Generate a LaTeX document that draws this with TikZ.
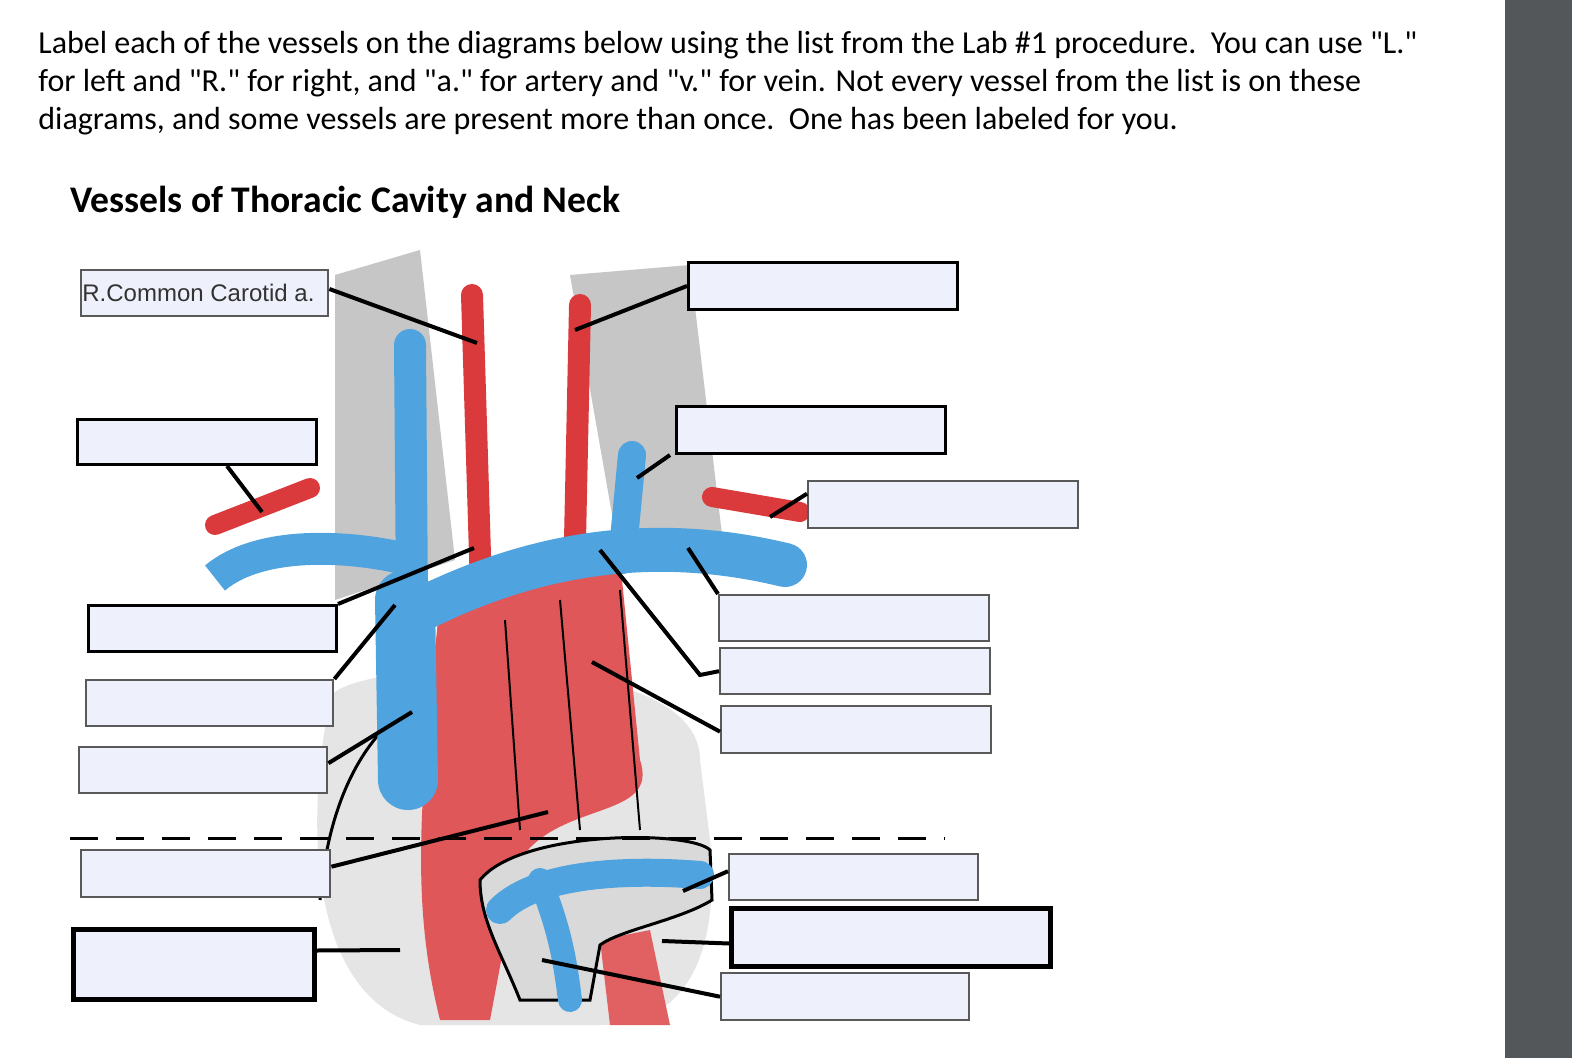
\documentclass[tikz,border=0pt]{standalone}
\usepackage{fontspec}
\setmainfont{Carlito}
\newfontfamily\plainf{Carlito}[Ligatures=ResetAll]
\newfontfamily\arialf{Liberation Sans}
\newcommand\dq{{\plainf"}}
\definecolor{boxfill}{HTML}{EEF1FB}
\definecolor{sidebar}{HTML}{54575A}
\definecolor{art}{HTML}{DA3A3C}
\definecolor{vein}{HTML}{4FA3DE}
\begin{document}
\begin{tikzpicture}[x=0.5pt,y=-0.5pt,
  lbox/.style={draw=gray!70!black,line width=1.2pt,fill=boxfill},
  tbox/.style={draw=black,line width=2.5pt,fill=boxfill},
  lead/.style={line width=2pt,black},
  artery/.style={art,line cap=round},
  veinl/.style={vein,line cap=round}]
\useasboundingbox (0,0) rectangle (1572,1058);
\fill[white] (0,0) rectangle (1572,1058);
\fill[sidebar] (1505,0) rectangle (1572,1058);
\node[anchor=north west,align=left,font=\fontsize{16}{19}\selectfont,inner sep=0] (intro) at (38,31)
 {Label each of the vessels on the diagrams below using the list from the Lab \#1 procedure.\ \ You can use \dq L.\dq\\
 for left and \dq R.\dq\ for right, and \dq a.\dq\ for artery and \dq v.\dq\ for vein. Not every vessel from the list is on these\\
 diagrams, and some vessels are present more than once.\ \ One has been labeled for you.};
\node[anchor=west,font=\bfseries\fontsize{18.8}{22}\selectfont,inner sep=0] (title) at (70,202) {Vessels of Thoracic Cavity and Neck};
% illustration
\fill[gray!45] (335,275) -- (420,250) -- (455,560) -- (335,600) -- cycle;
\fill[gray!45] (570,275) -- (690,265) -- (725,560) -- (620,560) -- cycle;
\fill[gray!20] (330,700) .. controls (330,660) and (700,640) .. (700,760) -- (710,840) .. controls (720,950) and (690,1025) .. (600,1025) -- (420,1025) .. controls (320,1000) and (300,850) .. (330,700) -- cycle;
\draw[line width=1.5pt] (320,900) .. controls (330,780) and (380,700) .. (470,680);
\draw[artery,line width=10pt] (215,525) -- (310,488);
\draw[artery,line width=10pt] (712,497) -- (800,512);
\draw[artery,line width=11pt] (472,295) -- (482,620);
\draw[artery,line width=11pt] (580,305) -- (575,540);
\fill[art!85] (440,600) -- (620,560) -- (640,760) .. controls (660,820) and (560,800) .. (520,860) -- (490,1020) -- (440,1020) .. controls (410,900) and (420,800) .. (440,600) -- cycle;
\fill[art!80] (600,940) -- (650,930) -- (670,1025) -- (610,1025) -- cycle;
\fill[gray!30,draw=black,line width=1.5pt] (480,880) .. controls (520,830) and (690,830) .. (710,850) -- (712,900) .. controls (680,920) and (620,930) .. (600,945) -- (590,1000) -- (520,1000) .. controls (500,950) and (480,920) .. (480,880) -- cycle;
\draw[veinl,line width=14pt] (500,910) .. controls (540,870) and (640,870) .. (700,875);
\draw[veinl,line width=12pt] (540,880) .. controls (560,930) and (565,960) .. (570,1000);
\draw[veinl,line width=16pt] (410,345) -- (412,600);
\draw[veinl,line width=30pt] (405,600) -- (408,780);
\draw[veinl,line width=16pt,line cap=butt] (215,578) .. controls (260,540) and (350,545) .. (410,560);
\draw[veinl,line width=22pt] (420,610) .. controls (520,560) and (640,530) .. (785,565);
\draw[veinl,line width=14pt] (632,455) -- (622,560);
\draw[line width=1pt] (505,620) -- (520,830) (560,600) -- (580,830) (620,590) -- (640,830);
% boxes
\node[lbox,minimum width=123.5pt,minimum height=23pt,anchor=north west,inner sep=0] (b1) at (80,269) {};
\node[anchor=west,font=\arialf\fontsize{12}{14}\selectfont,text=black!80,inner sep=1pt] at (b1.west) {R.Common Carotid a.};
\node[tbox,line width=1.5pt,minimum width=134.5pt,minimum height=23.5pt,anchor=north west] (b2) at (687,261) {};
\node[tbox,line width=1.5pt,minimum width=119.5pt,minimum height=22.5pt,anchor=north west] (b3) at (76,418) {};
\node[tbox,line width=1.5pt,minimum width=134.5pt,minimum height=23.5pt,anchor=north west] (b4) at (675,405) {};
\node[lbox,minimum width=135pt,minimum height=23.5pt,anchor=north west] (b5) at (807,480) {};
\node[tbox,line width=1.5pt,minimum width=124pt,minimum height=23pt,anchor=north west] (b6) at (87,604) {};
\node[lbox,minimum width=135pt,minimum height=23pt,anchor=north west] (b7) at (718,594) {};
\node[lbox,minimum width=123.5pt,minimum height=23pt,anchor=north west] (b8) at (85,679) {};
\node[lbox,minimum width=135pt,minimum height=23pt,anchor=north west] (b9) at (719,647) {};
\node[lbox,minimum width=124pt,minimum height=23pt,anchor=north west] (b10) at (78,746) {};
\node[lbox,minimum width=135pt,minimum height=23.5pt,anchor=north west] (b11) at (720,705) {};
\node[lbox,minimum width=124.5pt,minimum height=23.5pt,anchor=north west] (b12) at (80,849) {};
\node[lbox,minimum width=124.5pt,minimum height=23pt,anchor=north west] (b13) at (728,853) {};
\node[tbox,minimum width=120.5pt,minimum height=35pt,anchor=north west] (b14) at (71,927) {};
\node[tbox,minimum width=159.5pt,minimum height=29pt,anchor=north west] (b15) at (729,906) {};
\node[lbox,minimum width=124pt,minimum height=23.5pt,anchor=north west] (b16) at (720,972) {};
% leaders
\coordinate (t1) at (477,343); \coordinate (t2) at (575,330); \coordinate (t3) at (262,512);
\coordinate (t4) at (637,478); \coordinate (t5) at (770,517); \coordinate (t6) at (474,548);
\coordinate (t7) at (688,548); \coordinate (t8) at (395,605); \coordinate (t9) at (600,550);
\coordinate (k9) at (700,675); \coordinate (t10) at (412,712); \coordinate (t11) at (592,662);
\coordinate (t12) at (548,812); \coordinate (t13) at (683,891); \coordinate (t14) at (400,950);
\coordinate (t15) at (662,941); \coordinate (t16) at (542,960);
\draw[lead] ([yshift=-10]b1.north east) -- (t1);
\draw[lead] (b2.west) -- (t2);
\draw[lead] ([xshift=15]b3.south) -- (t3);
\draw[lead] ([xshift=-2.5]b4.south west) -- (t4);
\draw[lead] ([yshift=5.5]b5.west) -- (t5);
\draw[lead] (b6.north east) -- (t6);
\draw[lead] (b7.north west) -- (t7);
\draw[lead] (b8.north east) -- (t8);
\draw[lead] (b9.west) -- (k9) -- (t9);
\draw[lead] ([yshift=3.5]b10.east) -- (t10);
\draw[lead] ([yshift=-1]b11.west) -- (t11);
\draw[lead] ([yshift=3.5]b12.east) -- (t12);
\draw[lead] ([yshift=3]b13.west) -- (t13);
\draw[lead] ([yshift=7]b14.east) -- (t14);
\draw[lead] ([yshift=-3]b15.west) -- (t15);
\draw[lead] (b16.west) -- (t16);
\draw[line width=1.5pt,dash pattern=on 14pt off 9pt] (70,838) -- (945,838);
\end{tikzpicture}
\end{document}
